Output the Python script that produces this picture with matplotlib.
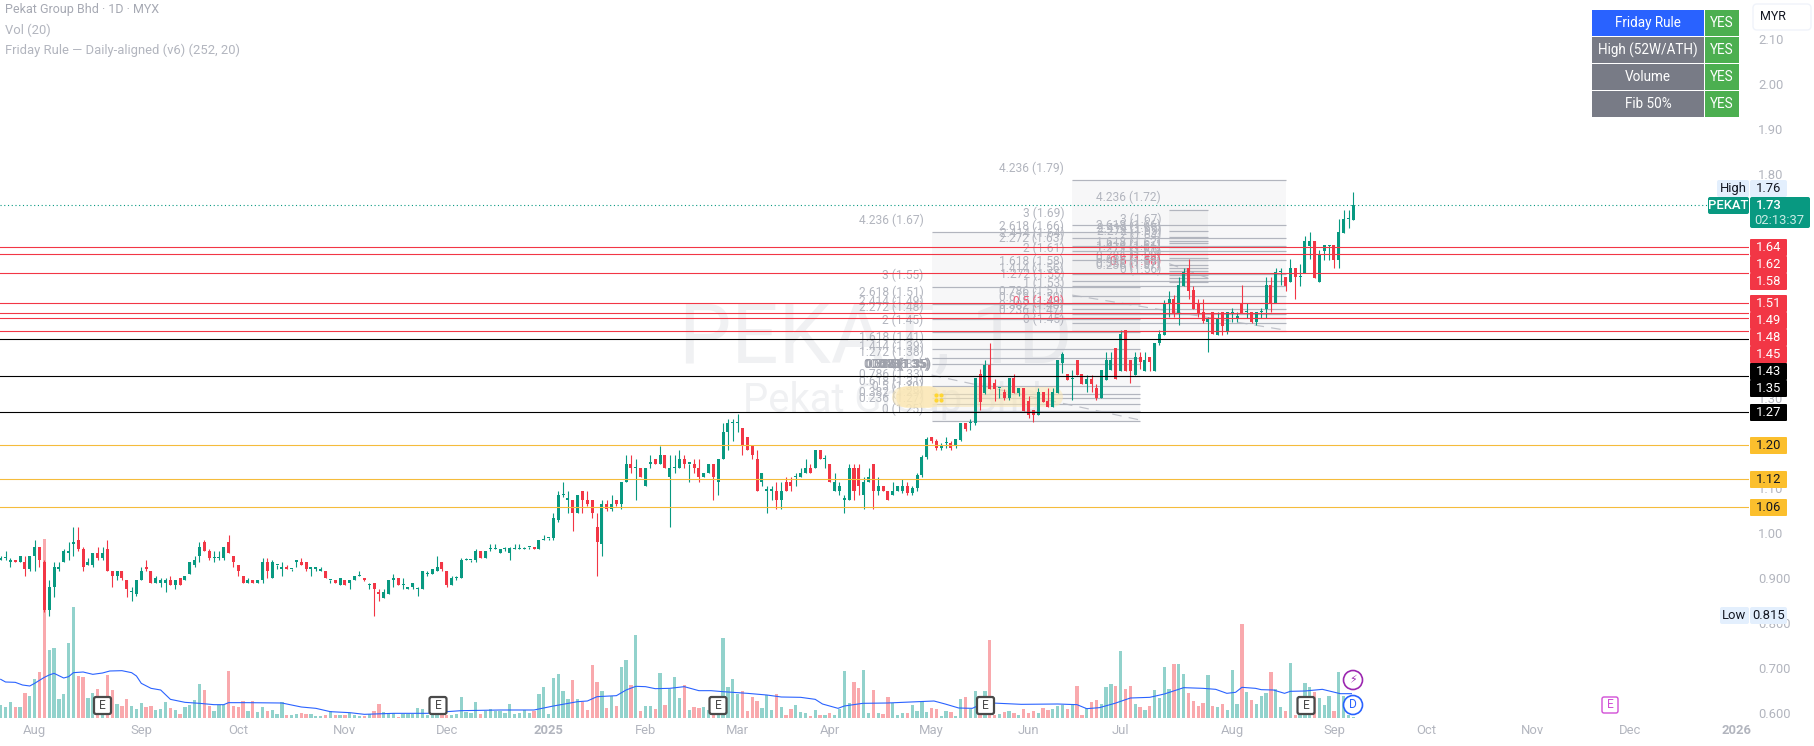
import matplotlib
matplotlib.use('Agg')
import matplotlib.pyplot as plt
from matplotlib.patches import Rectangle, FancyBboxPatch, Circle
import numpy as np

plt.rcParams['font.family'] = ['Roboto', 'DejaVu Sans']

opens = [
	.94, .945, .935, .94, .935, .935, .92, .95, .97, .935,
	.83, .88, .92, .935, .955, .975, .985, .965, .93, .93,
	.955, .945, .965, .915, .905, .915, .895, .87, .865, .895,
	.925, .915, .89, .89, .89, .895, .885, .90, .895, .91,
	.93, .95, .98, .96, .945, .945, .945, .98, .95, .93,
	.905, .89, .895, .89, .895, .935, .90, .93, .92, .925,
	.92, .935, .935, .935, .92, .92, .915, .915, .895, .895,
	.885, .895, .89, .895, .905, .90, .885, .89, .87, .855,
	.865, .895, .90, .885, .875, .88, .875, .875, .91, .91,
	.915, .935, .915, .885, .90, .90, .94, .94, .94, .96,
	.945, .965, .965, .955, .965, .955, .965, .965, .965, .97,
	.97, .965, .985, .99, .99, 1.03, 1.085, 1.075, 1.075, 1.045,
	1.095, 1.075, 1.075, 1.015, .975, 1.065, 1.055, 1.075, 1.065, 1.115,
	1.155, 1.145, 1.145, 1.105, 1.155, 1.165, 1.155, 1.175, 1.125, 1.145,
	1.145, 1.165, 1.155, 1.155, 1.145, 1.125, 1.135, 1.155, 1.115, 1.165,
	1.225, 1.245, 1.245, 1.235, 1.215, 1.195, 1.165, 1.115, 1.095, 1.095,
	1.095, 1.075, 1.115, 1.115, 1.125, 1.125, 1.135, 1.145, 1.145, 1.185,
	1.165, 1.155, 1.095, 1.095, 1.075, 1.075, 1.145, 1.145, 1.085, 1.115,
	1.155, 1.095, 1.105, 1.095, 1.085, 1.095, 1.095, 1.105, 1.09, 1.10,
	1.13, 1.17, 1.215, 1.205, 1.19, 1.20, 1.20, 1.195, 1.208, 1.245,
	1.245, 1.245, 1.355, 1.312, 1.375, 1.335, 1.323, 1.315, 1.30, 1.345,
	1.312, 1.323, 1.295, 1.275, 1.263, 1.315, 1.295, 1.28, 1.312, 1.38,
	1.355, 1.343, 1.385, 1.355, 1.332, 1.343, 1.323, 1.30, 1.342, 1.363,
	1.412, 1.36, 1.452, 1.385, 1.352, 1.392, 1.362, 1.392, 1.362, 1.424,
	1.442, 1.512, 1.522, 1.49, 1.55, 1.59, 1.541, 1.51, 1.492, 1.47,
	1.492, 1.441, 1.492, 1.448, 1.49, 1.48, 1.512, 1.492, 1.492, 1.47,
	1.492, 1.498, 1.552, 1.512, 1.582, 1.57, 1.56, 1.59, 1.57, 1.58,
	1.639, 1.65, 1.56, 1.628, 1.64, 1.642, 1.608, 1.668, 1.70, 1.697,
]
highs = [
	.95, .96, .945, .94, .95, .95, .95, .985, .97, .94,
	.895, .935, .935, .965, .98, 1.015, 1.015, .97, .945, .955,
	.97, .97, .985, .915, .915, .915, .895, .88, .895, .925,
	.94, .915, .905, .90, .90, .905, .895, .90, .905, .935,
	.95, .98, .985, .965, .96, .96, .97, .995, .95, .93,
	.905, .90, .895, .895, .945, .945, .94, .93, .935, .93,
	.92, .94, .945, .935, .925, .925, .925, .915, .895, .895,
	.90, .895, .895, .905, .915, .90, .89, .89, .875, .875,
	.895, .91, .90, .90, .88, .89, .88, .915, .915, .92,
	.95, .935, .915, .905, .905, .945, .945, .94, .965, .96,
	.96, .975, .975, .965, .97, .97, .975, .975, .97, .97,
	.97, .985, .995, .99, 1.045, 1.095, 1.115, 1.095, 1.075, 1.085,
	1.095, 1.095, 1.075, 1.045, 1.075, 1.075, 1.085, 1.075, 1.115, 1.175,
	1.175, 1.165, 1.145, 1.145, 1.175, 1.165, 1.195, 1.175, 1.175, 1.175,
	1.185, 1.175, 1.155, 1.165, 1.165, 1.135, 1.155, 1.155, 1.165, 1.245,
	1.255, 1.255, 1.265, 1.235, 1.215, 1.195, 1.185, 1.135, 1.105, 1.105,
	1.115, 1.115, 1.125, 1.125, 1.135, 1.145, 1.165, 1.155, 1.185, 1.185,
	1.175, 1.155, 1.135, 1.115, 1.085, 1.155, 1.155, 1.155, 1.125, 1.145,
	1.155, 1.125, 1.105, 1.095, 1.115, 1.105, 1.12, 1.115, 1.105, 1.135,
	1.175, 1.215, 1.215, 1.21, 1.20, 1.215, 1.205, 1.21, 1.245, 1.245,
	1.255, 1.345, 1.365, 1.385, 1.424, 1.344, 1.323, 1.322, 1.345, 1.355,
	1.323, 1.323, 1.305, 1.275, 1.323, 1.315, 1.323, 1.323, 1.385, 1.403,
	1.355, 1.363, 1.385, 1.355, 1.352, 1.352, 1.332, 1.363, 1.403, 1.403,
	1.412, 1.452, 1.452, 1.385, 1.403, 1.403, 1.403, 1.392, 1.424, 1.452,
	1.52, 1.54, 1.53, 1.57, 1.59, 1.61, 1.55, 1.521, 1.521, 1.482,
	1.492, 1.492, 1.492, 1.492, 1.501, 1.492, 1.553, 1.512, 1.492, 1.492,
	1.501, 1.57, 1.57, 1.59, 1.59, 1.57, 1.61, 1.59, 1.60, 1.662,
	1.67, 1.65, 1.63, 1.642, 1.642, 1.642, 1.70, 1.72, 1.72, 1.759,
]
lows = [
	.94, .94, .925, .935, .935, .905, .915, .915, .925, .825,
	.815, .858, .915, .935, .94, .95, .96, .915, .93, .925,
	.94, .94, .915, .88, .895, .895, .857, .85, .86, .895,
	.915, .89, .89, .88, .87, .885, .875, .885, .895, .91,
	.925, .935, .96, .94, .935, .94, .94, .955, .925, .905,
	.89, .89, .89, .89, .89, .90, .90, .92, .905, .92,
	.915, .925, .93, .915, .905, .915, .915, .90, .89, .89,
	.885, .885, .875, .895, .905, .893, .875, .815, .85, .855,
	.865, .88, .885, .875, .875, .875, .86, .875, .905, .91,
	.915, .915, .88, .885, .895, .90, .94, .935, .935, .945,
	.945, .96, .965, .955, .96, .94, .965, .965, .965, .965,
	.965, .965, .985, .985, .985, 1.025, 1.08, 1.045, 1.005, 1.045,
	1.045, 1.06, 1.035, .905, .95, 1.05, 1.05, 1.06, 1.055, 1.115,
	1.135, 1.075, 1.125, 1.105, 1.145, 1.155, 1.155, 1.145, 1.015, 1.135,
	1.145, 1.145, 1.115, 1.135, 1.115, 1.125, 1.135, 1.075, 1.085, 1.165,
	1.185, 1.205, 1.225, 1.175, 1.185, 1.165, 1.095, 1.105, 1.045, 1.075,
	1.055, 1.055, 1.095, 1.095, 1.105, 1.125, 1.135, 1.135, 1.145, 1.165,
	1.145, 1.115, 1.095, 1.085, 1.045, 1.075, 1.075, 1.085, 1.055, 1.115,
	1.055, 1.085, 1.095, 1.075, 1.085, 1.095, 1.09, 1.085, 1.085, 1.095,
	1.125, 1.165, 1.20, 1.185, 1.185, 1.19, 1.185, 1.19, 1.205, 1.227,
	1.23, 1.24, 1.275, 1.31, 1.32, 1.295, 1.30, 1.296, 1.296, 1.312,
	1.305, 1.272, 1.256, 1.247, 1.263, 1.292, 1.28, 1.28, 1.312, 1.357,
	1.342, 1.297, 1.352, 1.332, 1.315, 1.315, 1.296, 1.30, 1.342, 1.363,
	1.343, 1.36, 1.36, 1.335, 1.352, 1.365, 1.362, 1.36, 1.362, 1.42,
	1.442, 1.482, 1.482, 1.463, 1.55, 1.521, 1.499, 1.482, 1.468, 1.403,
	1.444, 1.441, 1.441, 1.444, 1.47, 1.47, 1.49, 1.48, 1.468, 1.463,
	1.48, 1.48, 1.492, 1.512, 1.552, 1.54, 1.56, 1.521, 1.55, 1.58,
	1.61, 1.568, 1.56, 1.608, 1.608, 1.59, 1.59, 1.668, 1.68, 1.697,
]
closes = [
	.945, .945, .94, .935, .95, .92, .95, .97, .94, .83,
	.88, .925, .925, .96, .96, .98, .965, .925, .935, .955,
	.945, .955, .915, .905, .915, .90, .875, .87, .895, .915,
	.92, .89, .90, .895, .895, .885, .895, .885, .905, .935,
	.94, .97, .96, .945, .945, .945, .97, .955, .935, .915,
	.89, .895, .89, .895, .935, .915, .935, .93, .925, .92,
	.92, .94, .93, .92, .925, .925, .92, .90, .895, .89,
	.90, .885, .895, .905, .905, .895, .885, .875, .865, .87,
	.895, .90, .885, .885, .88, .89, .875, .915, .91, .92,
	.925, .92, .885, .90, .90, .94, .94, .94, .96, .945,
	.96, .965, .965, .965, .965, .968, .965, .965, .965, .97,
	.965, .985, .985, .99, 1.035, 1.085, 1.085, 1.075, 1.045, 1.085,
	1.075, 1.065, 1.045, .98, 1.065, 1.055, 1.065, 1.065, 1.115, 1.155,
	1.145, 1.145, 1.125, 1.145, 1.155, 1.155, 1.175, 1.145, 1.145, 1.145,
	1.165, 1.155, 1.155, 1.145, 1.125, 1.135, 1.155, 1.125, 1.165, 1.225,
	1.245, 1.245, 1.245, 1.195, 1.185, 1.175, 1.095, 1.135, 1.095, 1.095,
	1.075, 1.095, 1.095, 1.105, 1.125, 1.135, 1.145, 1.135, 1.185, 1.165,
	1.165, 1.115, 1.115, 1.105, 1.075, 1.145, 1.095, 1.105, 1.115, 1.125,
	1.095, 1.105, 1.095, 1.075, 1.095, 1.105, 1.105, 1.09, 1.10, 1.13,
	1.17, 1.21, 1.205, 1.19, 1.195, 1.20, 1.19, 1.21, 1.245, 1.232,
	1.245, 1.345, 1.292, 1.375, 1.32, 1.32, 1.323, 1.30, 1.345, 1.312,
	1.323, 1.272, 1.263, 1.263, 1.315, 1.292, 1.28, 1.315, 1.385, 1.40,
	1.342, 1.343, 1.352, 1.332, 1.343, 1.332, 1.30, 1.363, 1.385, 1.385,
	1.343, 1.444, 1.36, 1.362, 1.392, 1.382, 1.385, 1.382, 1.424, 1.444,
	1.512, 1.522, 1.49, 1.552, 1.582, 1.54, 1.499, 1.49, 1.472, 1.48,
	1.444, 1.48, 1.461, 1.492, 1.492, 1.48, 1.49, 1.492, 1.47, 1.492,
	1.492, 1.552, 1.512, 1.582, 1.582, 1.55, 1.59, 1.57, 1.57, 1.65,
	1.65, 1.568, 1.622, 1.642, 1.64, 1.608, 1.67, 1.70, 1.70, 1.73,
]
volumes = [
	39, 33, 48, 33, 33, 75, 66, 117, 138, 537,
	204, 210, 57, 72, 225, 333, 126, 123, 60, 75,
	87, 54, 129, 84, 42, 36, 57, 36, 27, 45,
	33, 36, 24, 27, 48, 30, 24, 12, 33, 39,
	54, 102, 84, 36, 21, 39, 39, 141, 36, 33,
	51, 21, 51, 18, 33, 21, 24, 12, 48, 9,
	9, 12, 15, 12, 12, 6, 6, 9, 21, 9,
	9, 9, 15, 9, 6, 6, 12, 21, 42, 18,
	15, 15, 3, 12, 12, 12, 30, 27, 9, 9,
	9, 9, 9, 9, 12, 63, 18, 15, 48, 12,
	21, 27, 21, 21, 15, 42, 12, 15, 24, 15,
	21, 72, 93, 12, 120, 132, 81, 57, 114, 57,
	48, 24, 159, 108, 81, 30, 66, 36, 153, 174,
	99, 249, 21, 36, 36, 27, 135, 39, 87, 123,
	60, 99, 24, 33, 30, 33, 24, 9, 9, 240,
	93, 117, 72, 81, 21, 63, 51, 30, 69, 24,
	72, 33, 9, 27, 39, 18, 15, 6, 24, 9,
	9, 15, 9, 27, 141, 45, 108, 90, 144, 15,
	84, 15, 12, 63, 45, 9, 15, 15, 39, 21,
	48, 18, 30, 27, 6, 21, 18, 6, 57, 63,
	27, 81, 54, 81, 234, 9, 12, 18, 21, 15,
	9, 27, 15, 21, 15, 30, 24, 27, 36, 39,
	27, 39, 96, 9, 30, 48, 54, 42, 93, 102,
	96, 201, 87, 96, 42, 33, 24, 36, 84, 60,
	153, 87, 162, 162, 132, 75, 51, 36, 45, 129,
	36, 33, 42, 24, 144, 42, 282, 78, 54, 42,
	66, 75, 138, 87, 33, 21, 165, 9, 9, 105,
	93, 78, 60, 39, 66, 21, 138, 66, 9, 3,
]
vol_ma_bar = [
	0, 1, 3, 4.5, 6, 7, 9, 10, 11, 13, 14, 15, 17, 19, 21, 22.5, 25, 27, 28, 29,
	31, 33, 35, 38, 41, 44, 46, 47, 51, 58, 62, 65, 68, 72, 75, 81, 88, 92, 95, 103,
	110, 114, 119, 121, 123, 127, 129, 131, 133, 135, 138, 141, 144, 146.5, 149, 154, 158, 161, 165, 168,
	169.5, 172.7, 174, 177.8, 182.9, 192.5, 194.8, 197.6, 200.4, 203, 210.5, 218, 222, 224, 226.6, 229.8, 233, 237, 240, 244,
	248, 250.6, 252.9, 254.7, 256, 258.8, 260, 262.5, 264.8, 266, 269, 272.6, 276.3, 278.6,
]
vol_ma = [
	116, 108, 107, 99, 96, 104, 122, 129, 134, 120, 124, 136, 138, 131, 135, 141, 142, 136, 126, 104,
	89, 84, 56, 47, 44, 40, 40, 46, 46, 45, 33, 29, 19, 16, 11, 14, 14, 19, 22, 24,
	24, 36, 49, 51, 64, 67, 84, 95, 94, 88, 89, 94, 82, 82, 79, 74, 69, 63, 62, 56,
	42, 29, 36, 44, 45, 51, 42, 30, 29, 46, 41, 42, 40, 28, 31, 44, 60, 62, 72, 91,
	89, 86, 74, 77, 92, 89, 85, 84, 74, 80, 81, 86, 73, 73,
]

line_red = [1.637, 1.621, 1.5785, 1.512, 1.49, 1.479, 1.45]
line_black = [1.432, 1.35, 1.27]
line_gold = [1.196, 1.12, 1.058]
level_labels = ['1.64', '1.62', '1.58', '1.51', '1.49', '1.48', '1.45', '1.43', '1.35', '1.27', '1.20', '1.12', '1.06']

fib_ratios = ['4.236', '3', '2.618', '2.414', '2.272', '2', '1.618', '1.414', '1.272', '1', '0.786', '0.618', '0.5', '0.382', '0.236', '0']
fib_a = [1.67, 1.548, 1.51, 1.49, 1.476, 1.448, 1.41, 1.39, 1.376, 1.349, 1.328, 1.311, 1.30, 1.288, 1.273, 1.25]
fib_b = [1.786, 1.686, 1.656, 1.64, 1.629, 1.608, 1.578, 1.562, 1.55, 1.529, 1.512, 1.499, 1.489, 1.48, 1.469, 1.45]
fib_c = [1.72, 1.673, 1.659, 1.651, 1.646, 1.636, 1.621, 1.613, 1.608, 1.598, 1.59, 1.583, 1.579, 1.574, 1.569, 1.56]
fib_bars = [(192, 235), (221, 265), (241, 249)]
fib_trend = [(1.352, 1.252), (1.53, 1.452), (1.60, 1.568)]

month_bars = [7, 29, 49, 71, 92, 113, 133, 152, 171, 192, 212, 231, 254, 275, 294, 316, 336, 358]
month_labels = ['Aug', 'Sep', 'Oct', 'Nov', 'Dec', '2025', 'Feb', 'Mar', 'Apr', 'May', 'Jun', 'Jul', 'Aug', 'Sep', 'Oct', 'Nov', 'Dec', '2026']
price_ticks = [2.1, 2.0, 1.9, 1.8, 1.7, 1.6, 1.5, 1.4, 1.3, 1.2, 1.1, 1.0, 0.9, 0.8, 0.7, 0.6]
price_tick_labels = ['2.10', '2.00', '1.90', '1.80', '1.70', '1.60', '1.50', '1.40', '1.30', '1.20', '1.10', '1.00', '0.900', '0.800', '0.700', '0.600']

last_price = 1.73
table_rows = ['Friday Rule', 'High (52W/ATH)', 'Volume', 'Fib 50%']

GREEN = '#089981'
RED = '#f23645'
GOLD = '#f5bc3c'
AXIS_GRAY = '#b2b5be'
W, H = 1815, 746
AX_R, AX_B = 1749, 718
PX = 0.72

fig = plt.figure(figsize=(W / 100, H / 100), dpi=100)
ax = fig.add_axes([0, (H - AX_B) / H, AX_R / W, AX_B / H])
vol_ax = ax.twinx()
ax.set_zorder(2)
vol_ax.set_zorder(1)
ax.patch.set_visible(False)
vol_ax.patch.set_visible(False)

o = np.array(opens)
h = np.array(highs)
l = np.array(lows)
c = np.array(closes)
bars = np.arange(len(o))
up = c >= o
candle_colors = np.where(up, GREEN, RED)

ax.set_xlim(-0.144, 360.6)
ax.set_ylim(0.5888, 2.1868)
vol_ax.set_ylim(0, AX_B * 3)
vol_ax.axis('off')

# watermark goes under everything
fig.text(876 / W, 1 - 362 / H, 'PEKAT, 1D', fontsize=83 * PX, color='#f0f1f3', ha='center', va='baseline', zorder=-1)
fig.text(892 / W, 1 - 412 / H, 'Pekat Group Bhd', fontsize=40 * PX, color='#f0f1f3', ha='center', va='baseline', zorder=-1)

# volume and its average
vol_ax.bar(bars, volumes, width=0.68, color=np.where(up, '#92d2cc', '#f9a9ad'), zorder=1)
vol_ax.plot(vol_ma_bar, vol_ma, color='#2962ff', lw=1.1 * PX, zorder=2)

# fib tools
for levels, (b0, b1), (t0, t1) in zip([fib_a, fib_b, fib_c], fib_bars, fib_trend):
	ax.add_patch(Rectangle((b0, levels[-1]), b1 - b0, levels[0] - levels[-1], color='#787b86', alpha=0.055, lw=0, zorder=1))
	ax.hlines(levels, b0, b1, color=AXIS_GRAY, lw=PX * 1.2, zorder=1.2)
	ax.plot([b0, b1], [t0, t1], color=AXIS_GRAY, lw=PX * 1.2, dashes=(8, 6), alpha=0.8, zorder=1.2)
	for ratio, level in zip(fib_ratios, levels):
		col = AXIS_GRAY
		if ratio == '0.5' and levels is not fib_a:
			col = '#f25f7a'
		ax.annotate('{} ({:.2f})'.format(ratio, level), (b0, level), xytext=(-8 * PX, 12 * PX),
			textcoords='offset points', ha='right', va='center', fontsize=12 * PX, color=col, zorder=1.4)

# the stacked labels on the 1.35 level
for dx, ratio in zip([0, 1, 2, 3], ['0.618', '0.382', '0.786', '0.5']):
	ax.annotate('{} (1.35)'.format(ratio), (192, 1.349), xytext=((dx - 3) * PX, 12 * PX),
		textcoords='offset points', ha='right', va='center', fontsize=12 * PX, color='#9ea1ab', zorder=1.4)
for dx, ratio in zip([-32, -30, -24], ['0.618', '0.382', '0.786']):
	ax.annotate(ratio, (192, 1.349), xytext=(dx * PX, 12 * PX),
		textcoords='offset points', ha='right', va='center', fontsize=12 * PX, color='#9ea1ab', zorder=1.4)

# highlight left on the first fib
ax.plot([186, 217], [1.303, 1.303], color='#fbe7b4', alpha=0.55, lw=20 * PX, solid_capstyle='round', zorder=1.5)
ax.plot([187, 191.5], [1.303, 1.303], color='#fbe7b4', alpha=0.7, lw=22 * PX, solid_capstyle='round', zorder=1.5)
ax.scatter([193, 194, 193, 194], [1.3077, 1.3077, 1.2965, 1.2965], s=9, color='#ffd633', lw=0, zorder=3.5)

# candles
ax.vlines(bars, l, h, colors=candle_colors, lw=1.1 * PX, zorder=3)
body_low = np.minimum(o, c)
body_h = np.maximum(np.abs(c - o), 0.0025)
ax.bar(bars, body_h, bottom=body_low, width=0.62, color=candle_colors, lw=0, zorder=3.1)

# levels
for level in line_red:
	ax.axhline(level, color=RED, lw=1.1 * PX, zorder=4)
for level in line_black:
	ax.axhline(level, color='black', lw=1.1 * PX, zorder=4)
for level in line_gold:
	ax.axhline(level, color=GOLD, lw=1.1 * PX, zorder=4)
ax.axhline(last_price, color=GREEN, lw=1.1 * PX, dashes=(1, 2.4), zorder=4)

# axes
for side in ax.spines.values():
	side.set_visible(False)
ax.yaxis.tick_right()
ax.set_yticks(price_ticks)
ax.set_yticklabels(price_tick_labels)
ax.set_xticks(month_bars)
ax.set_xticklabels(month_labels)
ax.tick_params(axis='y', length=0, pad=9 * PX, labelsize=13 * PX, labelcolor=AXIS_GRAY)
ax.tick_params(axis='x', length=0, pad=6 * PX, labelsize=13 * PX, labelcolor=AXIS_GRAY)
for lab, text in zip(ax.get_xticklabels(), month_labels):
	if text.isdigit():
		lab.set_fontweight('bold')

# overlay in pixels for tags, table and markers
ui = fig.add_axes([0, 0, 1, 1], zorder=10)
ui.set_xlim(0, W)
ui.set_ylim(H, 0)
ui.axis('off')

def tag(x0, y0, x1, y1, color, edge='none', round_px=2):
	ui.add_patch(FancyBboxPatch((x0, y0), x1 - x0, y1 - y0, boxstyle='round,pad=0,rounding_size={}'.format(round_px),
		facecolor=color, edgecolor=edge, lw=1))

def label(x, y, text, color='white', size=13, ha='center', **kw):
	ui.text(x, y, text, color=color, fontsize=size * PX, ha=ha, va='center', **kw)

# legend lines at the top left
label(5, 9, 'Pekat Group Bhd · 1D · MYX', color='#a6a9b3', size=12.5, ha='left')
label(5, 30, 'Vol (20)', color=AXIS_GRAY, size=13, ha='left')
label(5, 50, 'Friday Rule — Daily-aligned (v6) (252, 20)', color=AXIS_GRAY, size=13, ha='left')

# rule table
row_tops = [10, 37, 64, 91]
for top, name in zip(row_tops, table_rows):
	first = '#2962ff' if name == 'Friday Rule' else '#787b86'
	ui.add_patch(Rectangle((1592, top), 112, 26, color=first, lw=0))
	ui.add_patch(Rectangle((1705, top), 34, 26, color='#4caf50', lw=0))
	label(1648, top + 13, name, size=13.5)
	label(1722, top + 13, 'YES', size=13.5)

# currency button
tag(1753, 4, 1811, 30, 'white', edge='#f0f3fa', round_px=4)
label(1773, 17, 'MYR', color='#131722', size=12.5)

# high, low and last price
tag(1717, 180, 1749, 197, '#e3effd')
tag(1750, 180, 1787, 197, '#e3effd')
label(1733, 188.5, 'High', color='#131722')
label(1768.5, 188.5, '1.76', color='#131722')
tag(1720, 607, 1749, 624, '#e3effd')
tag(1750, 607, 1787, 624, '#e3effd')
label(1734.5, 615.5, 'Low', color='#131722')
label(1768.5, 615.5, '0.815', color='#131722')
tag(1708, 197, 1749, 214, GREEN)
tag(1750, 197, 1810, 228, GREEN)
label(1728.5, 205.5, 'PEKAT', fontweight='medium')
label(1768.5, 205.5, '{:.2f}'.format(last_price), fontweight='medium')
label(1779, 220, '02:13:37', color='#c9ebe5')

# price level tags, pushed apart the way the axis stacks them
tag_y = [247.5, 264.5, 281.5, 303.5, 320.5, 337.5, 354.5, 371.5, 388.5, 412.5, 445.5, 479.5, 507.5]
tag_col = [RED] * 7 + ['black'] * 3 + ['#fbbf2d'] * 3
for y, text, col in zip(tag_y, level_labels, tag_col):
	tag(1750, y - 8.5, 1787, y + 8.5, col, round_px=1)
	label(1768.5, y, text, color='#131722' if col == '#fbbf2d' else 'white')

# earnings badges and the marks on the last bar
for x in [102.5, 438, 718, 985.5, 1306]:
	tag(x - 8.5, 697, x + 8.5, 714, 'white', edge='#4a4a4a', round_px=2)
	ui.patches[-1].set_linewidth(1.6)
	label(x, 705.5, 'E', color='#4a4a4a', size=12)
tag(1602, 697, 1618, 713, 'white', edge='#d24fd6', round_px=2)
label(1610, 705, 'E', color='#d24fd6', size=12)
ui.add_patch(Circle((1353, 680), 9.5, facecolor='white', edgecolor='#9c27b0', lw=1.2))
label(1353, 680, '⚡', color='#9c27b0', size=11)
ui.add_patch(Circle((1353, 705), 9.5, facecolor='white', edgecolor='#2962ff', lw=1.2))
label(1353, 705, 'D', color='#2962ff', size=12)

fig.savefig('out.png', dpi=100, facecolor='white')
